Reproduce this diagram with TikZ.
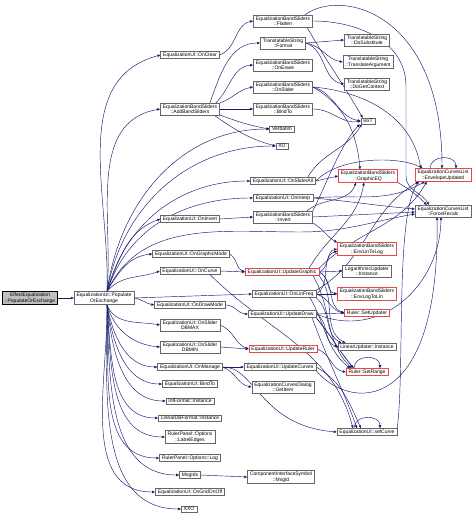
\documentclass[tikz,border=0pt]{standalone}
\usepackage{fontspec}
\setmainfont{Liberation Sans}
\usetikzlibrary{arrows.meta}
\definecolor{edgeblue}{HTML}{191970}
\definecolor{boxgray}{HTML}{666666}
\definecolor{boxred}{HTML}{E84848}
\definecolor{rootfill}{HTML}{BFBFBF}
\pgfdeclarelayer{edgelayer}
\pgfsetlayers{edgelayer,main}
\begin{document}
\begin{tikzpicture}[x=1pt,y=1pt,
  box/.style={draw=boxgray,line width=0.45pt,fill=white,align=center,
    font=\fontsize{5}{5.5}\selectfont,inner xsep=2.5pt,inner ysep=1.2pt},
  redbox/.style={box,draw=boxred},
  rootbox/.style={box,draw=black,fill=rootfill},
  cg/.style={draw=edgeblue,line width=0.45pt,-{Triangle[length=3pt,width=2.4pt]}}]
\useasboundingbox (0,0) rectangle (474,516);
% root and caller
\node[rootbox] (A) at (30,218) {EffectEqualization\\::PopulateOrExchange};
\node[box] (B) at (104,218) {EqualizationUI::Populate\\OrExchange};
% column 2
\node[box] (onclear) at (190,461) {EqualizationUI::OnClear};
\node[box] (addbs) at (190,407) {EqualizationBandSliders\\::AddBandSliders};
\node[box] (oninvert) at (190,297) {EqualizationUI::OnInvert};
\node[box] (ongraphic) at (191,262) {EqualizationUI::OnGraphicMode};
\node[box] (oncurve) at (190,245) {EqualizationUI::OnCurve};
\node[box] (ondraw) at (190,211) {EqualizationUI::OnDrawMode};
\node[box] (dbmax) at (190,191) {EqualizationUI::OnSlider\\DBMAX};
\node[box] (dbmin) at (190,169) {EqualizationUI::OnSlider\\DBMIN};
\node[box] (onmanage) at (190,149) {EqualizationUI::OnManage};
\node[box] (bindto) at (190,132) {EqualizationUI::BindTo};
\node[box] (intfmt) at (190,115) {IntFormat::Instance};
\node[box] (lindb) at (190,98) {LinearDBFormat::Instance};
\node[box] (labeledges) at (190,79) {RulerPanel::Options\\::LabelEdges};
\node[box] (rlog) at (190,58) {RulerPanel::Options::Log};
\node[box] (msgids) at (190,41) {MsgIds};
\node[box] (gridonoff) at (190,24) {EqualizationUI::OnGridOnOff};
\node[box] (xxo) at (189,7) {XXO};
% column 3
\node[box] (flatten) at (283,495) {EqualizationBandSliders\\::Flatten};
\node[box] (format) at (283,473) {TranslatableString\\::Format};
\node[box] (onerase) at (283,451) {EqualizationBandSliders\\::OnErase};
\node[box] (onslider) at (283,429) {EqualizationBandSliders\\::OnSlider};
\node[box] (bsbind) at (283,407) {EqualizationBandSliders\\::BindTo};
\node[box] (verbatim) at (282,387) {Verbatim};
\node[box] (xo) at (282,370) {XO};
\node[box] (onsliderall) at (283,335) {EqualizationUI::OnSliderAll};
\node[box] (oninterp) at (283,318) {EqualizationUI::OnInterp};
\node[box] (invert) at (283,299) {EqualizationBandSliders\\::Invert};
\node[redbox] (updgraphic) at (282,244) {EqualizationUI::UpdateGraphic};
\node[box] (onlinfreq) at (284,222) {EqualizationUI::OnLinFreq};
\node[box] (upddraw) at (282,202) {EqualizationUI::UpdateDraw};
\node[redbox] (updruler) at (283,167) {EqualizationUI::UpdateRuler};
\node[box] (updcurves) at (280,149) {EqualizationUI::UpdateCurves};
\node[box] (getitem) at (283,129) {EqualizationCurvesDialog\\::GetItem};
\node[box] (msgid) at (281,39) {ComponentInterfaceSymbol\\::MsgId};
% column 4
\node[box] (dosubst) at (367,476) {TranslatableString\\::DoSubstitute};
\node[box] (translarg) at (368,454) {TranslatableString\\::TranslateArgument};
\node[box] (dogetctx) at (367,432) {TranslatableString\\::DoGetContext};
\node[box] (wxt) at (368,395) {wxT};
\node[redbox] (graphiceq) at (368,340) {EqualizationBandSliders\\::GraphicEQ};
\node[redbox] (envlin2log) at (367,267) {EqualizationBandSliders\\::EnvLinToLog};
\node[box] (logupd) at (367,245) {LogarithmicUpdater\\::Instance};
\node[redbox] (envlog2lin) at (367,222) {EqualizationBandSliders\\::EnvLogToLin};
\node[redbox] (setupdater) at (367,203) {Ruler::SetUpdater};
\node[box] (linupd) at (367,169) {LinearUpdater::Instance};
\node[redbox] (setrange) at (367,144) {Ruler::SetRange};
\node[box] (setcurve) at (367,84) {EqualizationUI::setCurve};
% column 5
\node[redbox] (envupd) at (443,341) {EqualizationCurvesList\\::EnvelopeUpdated};
\node[box] (forcerecalc) at (443,305) {EqualizationCurvesList\\::ForceRecalc};
\coordinate (Bt) at ([xshift=3pt]B.north);
\coordinate (Bb) at ([xshift=3pt]B.south);
\begin{pgfonlayer}{edgelayer}
\draw[cg] (A) -- (B);
% B upwards
\draw[cg] (Bt) to[out=88,in=195] (onclear.west);
\draw[cg] (Bt) to[out=85,in=190] (addbs.west);
\draw[cg] (Bt) to[out=82,in=180] (verbatim.west);
\draw[cg] (Bt) to[out=80,in=180] (xo.west);
\draw[cg] (Bt) to[out=75,in=180] (onsliderall.west);
\draw[cg] (Bt) to[out=72,in=180] (oninterp.west);
\draw[cg] (Bt) to[out=70,in=200] (oninvert.west);
\draw[cg] (Bt) to[out=65,in=180] (300,284) to[out=0,in=190] ([yshift=-3pt]forcerecalc.west);
\draw[cg] (Bt) to[out=60,in=185] (ongraphic.west);
\draw[cg] (Bt) to[out=50,in=200] (oncurve.west);
\draw[cg] (B.east) -- (onlinfreq.west);
\draw[cg] (B.east) to[out=-10,in=170] (ondraw.west);
% B downwards
\draw[cg] (Bb) to[out=-70,in=170] (dbmax.west);
\draw[cg] (Bb) to[out=-75,in=175] (dbmin.west);
\draw[cg] (Bb) to[out=-80,in=180] (onmanage.west);
\draw[cg] (Bb) to[out=-82,in=180] (bindto.west);
\draw[cg] (Bb) to[out=-84,in=180] (intfmt.west);
\draw[cg] (Bb) to[out=-85,in=180] (lindb.west);
\draw[cg] (Bb) to[out=-86,in=180] (labeledges.west);
\draw[cg] (Bb) to[out=-87,in=180] (rlog.west);
\draw[cg] (Bb) to[out=-88,in=180] (msgids.west);
\draw[cg] (Bb) to[out=-89,in=180] (gridonoff.west);
\draw[cg] (Bb) to[out=-90,in=180] (xxo.west);
% column 2 -> 3
\draw[cg] (onclear.east) to[out=20,in=190] (flatten.west);
\draw[cg] ([xshift=-10pt]addbs.north east) to[out=70,in=180] (format.west);
\draw[cg] ([xshift=-4pt]addbs.north east) to[out=45,in=185] (onerase.west);
\draw[cg] (addbs.north east) to[out=20,in=190] (onslider.west);
\draw[cg] (addbs.east) -- (bsbind.west);
\draw[cg] (addbs.south east) to[out=-20,in=170] (verbatim.west);
\draw[cg] ([xshift=-6pt]addbs.south east) to[out=-35,in=165] (xo.west);
\draw[cg] (oninvert.east) -- (invert.west);
\draw[cg] (ongraphic.east) to[out=-30,in=160] (updgraphic.west);
\draw[cg] (oncurve.east) -- (updgraphic.west);
\draw[cg] ([xshift=-10pt]oncurve.south east) to[out=-45,in=105] ([xshift=-14pt]setcurve.north);
\draw[cg] (ondraw.east) to[out=0,in=180] (upddraw.west);
\draw[cg] (dbmax.east) to[out=-20,in=160] (updruler.west);
\draw[cg] (dbmin.east) -- (updruler.west);
\draw[cg] (onmanage.east) -- (updcurves.west);
\draw[cg] (onmanage.east) to[out=-20,in=170] (getitem.west);
\draw[cg] (onmanage.east) .. controls (255,150) and (260,90) .. (setcurve.west);
\draw[cg] (msgids.east) -- (msgid.west);
% flatten
\draw[cg] ([xshift=-8pt]flatten.north east) .. controls (340,528) and (442,505) .. ([xshift=-1pt]envupd.north);
\draw[cg] (flatten.east) to[out=0,in=90] (406,430) -- (406,340) to[out=-90,in=120] ([xshift=-14pt]forcerecalc.north);
\draw[cg] ([xshift=-6pt]flatten.south east) to[out=-60,in=120] ([xshift=2pt]wxt.north west);
% format
\draw[cg] (format.east) -- (dosubst.west);
\draw[cg] (format.east) to[out=-10,in=170] (translarg.west);
\draw[cg] (format.east) to[out=-20,in=170] (dogetctx.west);
% onslider, bindto
\draw[cg] (onslider.east) to[out=-15,in=170] (wxt.west);
\draw[cg] (onslider.east) to[out=-30,in=95] ([xshift=-8pt]graphiceq.north);
\draw[cg] (onslider.east) to[out=-5,in=100] ([xshift=6pt]envupd.north west);
\draw[cg] (bsbind.east) to[out=0,in=190] (wxt.west);
% onsliderall, oninterp, invert
\draw[cg] (onsliderall.east) -- (graphiceq.west);
\draw[cg] (onsliderall.east) .. controls (340,360) and (400,360) .. ([xshift=8pt]envupd.north west);
\draw[cg] ([xshift=-8pt]onsliderall.north east) to[out=60,in=-120] ([xshift=1pt]wxt.south west);
\draw[cg] (oninterp.east) to[out=5,in=-150] ([xshift=10pt]envupd.south west);
\draw[cg] (oninterp.east) to[out=-5,in=175] ([yshift=2pt]forcerecalc.west);
\draw[cg] (invert.east) -- ([yshift=-1pt]forcerecalc.west);
\draw[cg] ([xshift=-6pt]invert.north east) to[out=40,in=-110] ([xshift=-12pt]graphiceq.south);
\draw[cg] (invert.north east) .. controls (330,340) and (340,370) .. ([xshift=-1pt]wxt.south west);
\draw[cg] (invert.south east) to[out=-30,in=150] (envlin2log.north west);
\draw[cg] (graphiceq.south east) to[out=-30,in=135] ([xshift=12pt]forcerecalc.north west);
% updgraphic
\draw[cg] (updgraphic.east) to[out=20,in=190] (envlin2log.west);
\draw[cg] (updgraphic.east) -- (logupd.west);
\draw[cg] (updgraphic.east) to[out=-20,in=170] (envlog2lin.west);
\draw[cg] (updgraphic.east) to[out=-30,in=160] (setupdater.west);
\draw[cg] (updgraphic.south east) to[out=-50,in=150] ([xshift=8pt]linupd.north west);
\draw[cg] ([xshift=-6pt]updgraphic.south east) to[out=-60,in=135] ([xshift=6pt]setrange.north west);
\draw[cg] (updgraphic.north east) to[out=45,in=-120] ([xshift=12pt]envupd.south west);
\draw[cg] ([xshift=-10pt]updgraphic.north east) to[out=60,in=-100] ([xshift=-4pt]graphiceq.south);
% onlinfreq
\draw[cg] (onlinfreq.east) to[out=30,in=200] ([yshift=-2pt]envlin2log.west);
\draw[cg] (onlinfreq.east) -- (envlog2lin.west);
\draw[cg] (onlinfreq.east) to[out=-15,in=170] (setupdater.west);
\draw[cg] (onlinfreq.south east) to[out=-40,in=150] ([xshift=4pt]linupd.north west);
\draw[cg] ([xshift=-6pt]onlinfreq.south east) to[out=-60,in=140] ([xshift=4pt]setrange.north west);
\draw[cg] (onlinfreq.north east) to[out=30,in=-150] ([xshift=4pt]envupd.south west);
% upddraw
\draw[cg] (upddraw.east) -- (setupdater.west);
\draw[cg] (upddraw.east) to[out=-30,in=160] (linupd.west);
\draw[cg,line width=0.7pt] (upddraw.south east) to[out=-50,in=130] ([xshift=8pt]setrange.north west);
\draw[cg] ([xshift=-4pt]upddraw.south east) to[out=-70,in=110] ([xshift=-10pt]setcurve.north);
\draw[cg] (upddraw.east) .. controls (380,175) and (440,230) .. ([xshift=-2pt]forcerecalc.south);
% updruler, updcurves
\draw[cg] (updruler.east) to[out=-20,in=170] (setrange.west);
\draw[cg] (updcurves.east) to[out=-30,in=115] ([xshift=-6pt]setcurve.north);
\draw[cg] (updcurves.south east) .. controls (350,105) and (440,100) .. ([xshift=-6pt]forcerecalc.south);
\draw[cg] (setcurve.north east) .. controls (405,150) and (395,300) .. ([xshift=4pt]envupd.south west);
% self loops
\draw[cg] ([xshift=-13pt]envupd.north) .. controls +(0,14) and +(0,14) .. ([xshift=13pt]envupd.north);
\draw[cg] ([xshift=-13pt]setrange.north) .. controls +(0,14) and +(0,14) .. ([xshift=13pt]setrange.north);
\draw[cg] ([xshift=-13pt]setcurve.north) .. controls +(0,14) and +(0,14) .. ([xshift=13pt]setcurve.north);
\end{pgfonlayer}
\end{tikzpicture}
\end{document}
